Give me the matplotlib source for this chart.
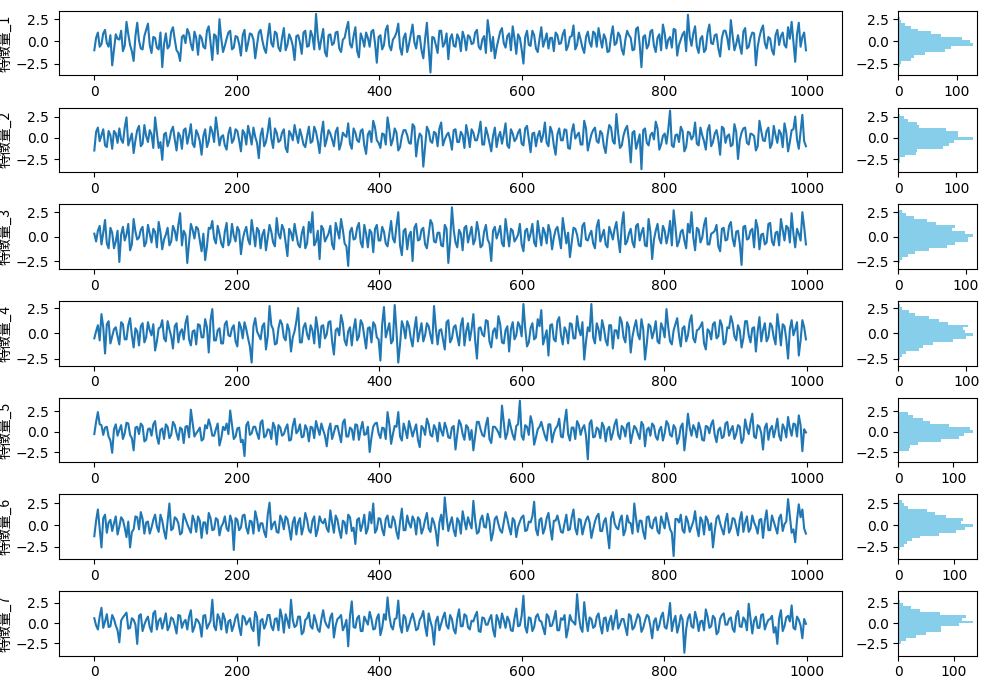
import numpy as np
import matplotlib.pyplot as plt

# 特徴量_1 ~ 特徴量_7 (値は図から読み取った近似、5サンプル毎)
s1 = [-1.0, 1.0, -0.3, 1.3, -0.6, -2.7, 0.8, 0.2, -1.1, 2.2, -0.4, -2.2, 2.1, -0.8, 0.6, 2.0, -1.3, 0.4, -0.9, -2.9,
      0.9, -0.5, 1.6, -1.0, -2.2, 0.7, 1.4, -0.3, 1.1, -1.5, 0.4, -0.8, 1.7, -2.1, 0.6, 2.5, -1.2, 0.3, 1.2, -0.7,
      0.5, -1.6, 1.3, -0.2, 0.8, -1.9, 1.0, 0.1, -1.3, 2.0, -0.6, 0.9, -1.1, 1.5, -0.4, 0.3, -2.1, 0.7, -1.4, 1.2,
      -0.5, 0.6, 3.1, -0.9, 1.4, -1.7, 0.8, -0.2, 1.1, -1.2, 0.4, 2.2, -0.7, 1.6, -1.8, 0.3, 1.0, -0.6, 1.3, -2.4,
      0.7, -0.4, 1.8, -1.0, 0.5, 2.0, -1.5, 0.9, -0.3, 1.9, -0.8, 0.6, -1.9, 2.1, -3.5, 0.4, -1.3, 1.2, -0.2, -2.0,
      0.8, -0.6, 0.3, 1.1, -1.0, 0.5, -0.2, 1.3, -0.9, 0.6, 2.4, -1.1, -1.9, 0.2, 1.5, -0.7, 0.9, 1.7, -1.4, 0.4,
      -2.5, 1.2, -0.5, 0.7, -1.2, 1.6, 0.1, -0.8, 0.4, 1.0, -0.3, 0.8, -1.0, 0.5, 1.8, -0.4, 0.2, -1.3, 1.1, -0.6,
      0.9, 1.5, -0.7, 0.3, -1.1, 1.7, -0.2, 0.6, -1.5, 1.2, 0.4, -0.9, 1.6, -2.9, 0.7, -0.4, 1.3, -1.2, 0.8, 1.9,
      -0.8, 0.5, 1.4, -1.6, 0.2, 1.1, 3.0, -0.5, 1.7, -1.3, 0.6, -0.9, 1.9, -0.3, 0.8, -1.7, 1.2, 0.4, 2.4, -1.0,
      0.7, -1.4, 1.5, -0.6, 1.0, -2.7, 0.5, 1.8, -0.8, 0.3, -1.5, 1.3, 0.6, -0.4, 1.6, 2.2, -2.3, 2.1, 0.5, -1.0]
s2 = [-1.5, 1.2, 0.3, -0.9, 0.8, -1.3, 0.5, 1.1, -0.6, 2.4, -0.2, -1.8, 0.9, -1.0, 1.5, -0.5, 0.4, 2.4, -1.2, -2.6,
      0.6, -0.3, 1.3, -1.5, 0.2, 0.9, -0.7, 1.6, -1.1, 0.4, -2.0, 1.0, -0.4, 0.7, 2.4, -0.9, 0.3, -1.4, 1.2, -0.2,
      0.8, -1.6, 0.5, 1.4, -0.8, 0.1, -2.4, 1.1, -0.5, 2.3, -1.2, 0.6, -0.3, 1.0, -1.7, 0.4, 1.5, -0.6, 0.2, -1.1,
      1.3, -0.4, 0.7, -1.8, 1.9, -0.2, 0.5, -1.0, 1.2, -0.7, 0.3, 1.7, -1.3, 0.6, -0.5, 1.0, -1.9, 0.8, 2.0, -0.3,
      -1.2, 0.4, 2.4, -0.9, 1.1, -1.5, 0.2, 0.9, -0.6, 1.6, -2.2, 0.5, -3.4, 1.3, -0.4, 0.7, -1.0, 1.8, -0.2, 0.6,
      -1.4, 1.0, -0.5, 0.3, 1.5, -1.1, 0.6, -0.3, 1.9, -0.8, 0.4, -1.6, 1.2, 0.1, -0.7, 1.7, -1.2, 0.5, -0.1, 1.0,
      -0.9, 1.4, -1.7, 0.6, 0.2, -0.5, 1.8, -1.0, 0.7, -2.0, 1.1, -0.3, 0.9, -1.3, 1.6, 0.3, -0.8, 2.0, -1.5, 0.4,
      1.2, -0.6, 0.5, -1.8, 1.5, -0.4, 2.8, -1.2, 0.3, 1.4, -2.9, 0.8, -0.5, -3.7, 1.1, -0.9, 0.6, 1.9, -1.4, 0.2,
      -0.7, 3.2, -1.1, 0.4, 1.3, -1.6, 0.7, -0.2, 1.8, -0.9, 0.3, -1.4, 1.5, -0.5, 0.9, -2.0, 1.1, 0.2, -1.0, 1.6,
      -2.5, 0.6, 1.2, -0.8, 0.4, -1.5, 2.0, -0.3, 0.8, -1.2, 1.4, -0.6, 0.5, 1.7, -1.6, 0.9, 2.5, -1.3, 2.7, -1.0]
s3 = [0.3, 0.6, -0.8, 1.7, -1.2, 0.4, -0.5, -2.6, 1.0, 0.2, -1.4, 1.8, -0.3, 0.7, -1.0, 1.2, -0.6, 0.5, 1.5, -1.3,
      0.2, -0.9, 1.1, -0.4, 2.4, 0.6, -2.7, 1.3, -0.2, 0.8, -1.5, -2.4, 0.9, 1.6, -0.7, 0.3, -1.1, 1.4, -0.5, 0.1,
      1.0, -1.8, 0.5, -0.3, 1.7, -1.0, 0.6, 0.2, -1.4, 1.2, -0.6, 1.9, -0.2, 0.7, -2.0, 0.4, 1.3, -0.8, 0.3, -1.2,
      1.5, 2.5, -0.5, -2.3, 0.8, -0.1, 1.1, -1.3, 0.6, 1.8, -0.7, -3.0, 0.9, -0.2, 1.4, -1.1, 0.3, 0.7, -1.6, 1.2,
      -0.4, 0.5, -1.0, 1.6, -0.6, 2.5, -1.9, 0.8, 0.1, -2.5, 1.3, -0.3, 0.9, -1.2, 1.7, -0.5, 0.4, -0.9, 1.2, -2.7,
      3.0, -0.6, 0.7, -1.4, 1.1, 0.2, -0.8, 1.5, -1.1, 0.5, -0.3, -2.5, 1.0, 0.4, -0.7, 1.8, -1.0, 0.6, -0.2, 1.3,
      -1.5, 0.8, 0.3, -0.6, 1.6, -0.9, 0.4, 1.2, -1.3, 0.7, -0.1, 1.9, -0.7, -2.1, 0.9, 0.2, -1.0, 1.4, -0.4, 0.6,
      -1.2, 1.7, 0.1, -0.8, 1.0, -0.3, 1.5, -1.6, 2.5, -0.5, 0.8, -1.1, 1.3, 0.4, -0.9, 1.8, -2.3, 0.6, -0.2, 1.1,
      -0.7, 1.6, 2.7, -1.0, 0.5, -0.4, 1.3, 2.5, -1.4, 0.7, -0.1, 1.9, -0.8, 0.4, 1.2, -1.5, 0.9, -0.3, 1.5, -1.0,
      0.6, -2.9, 1.1, -0.2, 0.8, 1.7, -1.3, 0.3, -0.6, 1.4, -0.9, 0.5, 1.8, -0.4, 0.9, 2.4, -1.1, 0.3, 2.5, -0.8]
s4 = [-0.5, 0.8, 1.9, -2.0, 1.2, -0.3, 0.6, -1.1, 0.9, -0.6, 1.5, -1.4, 0.2, 0.7, -0.9, 1.1, -0.2, -1.7, 0.5, 1.3,
      -0.8, 0.4, -1.5, 1.0, 0.1, -0.6, 1.7, -1.2, 0.3, 0.9, -0.4, 1.4, -1.9, 2.4, -0.7, 0.5, -1.0, 1.2, -0.3, 0.8,
      -1.3, 0.6, 1.1, -0.5, -2.9, 1.5, -0.2, 0.7, -1.6, 2.7, 0.4, -1.0, 1.3, -0.4, 0.9, -1.8, 0.2, 2.5, -0.9, 1.0,
      -0.6, 0.3, 1.6, -1.4, 0.8, -0.1, 1.2, -2.1, 0.5, 1.8, -0.7, 0.2, -1.2, 1.4, -0.3, 0.9, -1.5, 0.6, 1.1, -0.4,
      -2.7, 2.6, 0.3, -1.0, 2.8, -2.9, 1.2, -0.5, 0.7, -1.3, 1.6, 0.1, -0.8, 1.0, -0.2, 2.7, -1.1, 0.4, -1.6, 1.3,
      -0.5, 0.8, -1.2, 1.5, 0.2, -0.7, 1.9, -2.5, 0.6, -0.3, 1.2, -1.4, 0.5, 1.7, -0.9, 0.3, -1.8, 1.1, -0.2, 0.7,
      2.9, -1.3, 0.5, -0.6, 1.4, 2.3, -0.4, -2.2, 0.9, -0.8, 1.6, -1.1, 0.2, 1.0, -0.5, 1.7, -0.2, -2.6, 0.6, 2.9,
      -1.0, 0.4, 1.3, -0.7, 0.8, -1.5, 0.3, 1.6, -0.4, 1.1, -1.9, 0.6, -0.1, 1.4, -2.6, 0.9, -0.5, 1.2, -1.0, 0.5,
      2.4, -0.8, 0.3, 1.5, -1.3, 0.7, -0.2, 1.8, -0.9, 0.4, 1.1, -1.6, 0.2, 0.9, -0.5, 1.3, -1.1, 0.6, 1.7, -0.3,
      0.8, -1.4, 1.2, -0.2, 0.5, -1.8, 1.6, 0.3, -0.8, 1.0, -0.4, 1.9, -1.2, 0.7, -2.5, 1.3, 0.4, -2.2, 1.3, -0.6]
s5 = [-0.3, 2.4, 0.8, 0.5, -0.6, -2.6, 0.9, 0.2, -0.9, 1.1, -0.4, -2.3, 0.6, 1.0, -1.2, 0.3, -0.5, 1.3, -1.5, 0.4,
      0.9, -0.8, 1.2, -0.2, 0.5, -1.4, 0.7, 2.7, -0.6, 0.1, -1.1, 0.8, 1.5, -0.5, 0.3, -1.7, 0.6, 1.0, 2.6, -0.9,
      0.4, -1.3, -3.0, 1.2, -0.2, 0.6, -0.9, 1.4, -0.5, 0.2, 1.1, -1.6, 0.5, -0.3, 0.9, -1.0, 1.6, 0.1, -0.7, 0.8,
      -1.2, 0.5, 1.3, -0.4, 0.2, -1.8, 1.0, -0.1, 0.7, -1.3, 1.5, -0.6, 0.3, 0.9, -1.0, 1.2, -0.3, -2.5, 0.6, 1.1,
      -0.8, 0.4, 2.4, -1.5, 0.7, 2.4, -1.1, 0.2, 1.3, -0.6, 0.9, -1.9, 0.4, 1.6, -0.4, 0.8, -1.2, 0.1, 1.1, -0.7,
      0.5, -2.2, 1.4, -0.3, 0.8, -1.0, -2.3, 1.2, 0.3, -0.6, 1.7, -1.4, 0.6, -0.1, 3.2, -0.9, 1.5, -0.4, 0.7, 3.8,
      -1.0, 0.6, 1.9, -1.6, 0.3, 1.2, -0.5, 0.9, -1.3, 0.4, 1.6, -0.7, 2.7, -1.1, 0.5, 1.3, -0.4, 0.8, -3.4, 1.4,
      -0.6, 0.3, 1.1, -1.2, 0.6, -0.2, 1.5, -0.9, 0.4, 0.9, -1.4, 0.7, -0.3, 1.2, -1.8, 0.5, 1.0, -0.6, 0.2, -1.1,
      1.3, -0.4, 0.8, -1.5, 0.6, -2.3, 2.2, -0.5, 0.3, 1.1, -1.0, 0.7, -0.2, 1.4, -1.3, 0.5, -0.6, 1.2, 0.2, -0.9,
      0.8, -1.4, 1.5, -0.3, 2.2, -0.8, 0.6, -2.2, 1.0, 0.3, -0.7, 1.6, -1.1, 0.4, 1.8, -0.5, 0.9, 2.0, -2.4, -0.1]
s6 = [-1.3, 1.8, -2.6, 1.2, 0.3, -0.7, 1.0, -0.2, 0.6, -1.4, -2.6, -0.5, 0.9, 1.5, -1.0, 0.4, -0.3, 1.2, -0.8, 0.5,
      -1.6, 2.5, -0.4, 0.7, -1.1, 1.3, 0.1, -0.9, 0.5, 1.0, -1.5, 0.3, 1.4, -0.6, 0.8, -1.2, 0.2, -0.4, 1.1, -2.9,
      0.6, -0.3, 1.2, -1.0, 0.4, 1.6, -0.7, 0.2, -1.4, 2.6, 0.1, -0.8, 1.1, -0.5, 0.7, -1.7, 0.9, 0.3, -1.1, 1.4,
      -0.6, 0.5, -1.3, 1.0, 0.2, -0.4, 1.7, -0.9, 0.6, -1.5, 0.3, 1.2, -0.7, -2.2, 0.8, 0.1, -1.0, 1.5, 2.5, -0.5,
      0.7, -1.2, 1.1, -0.3, 0.5, -1.6, 1.9, -0.6, 0.2, 1.0, -1.1, 0.6, -0.4, 1.4, -0.8, 0.3, -2.4, 1.2, 3.2, -0.7,
      0.9, -1.3, 0.4, 1.6, -0.5, 0.2, 2.8, -1.0, 0.6, -0.2, 1.3, -1.8, 0.7, 0.1, -0.9, 1.5, -0.3, 0.8, -1.4, 0.4,
      1.1, -0.6, 0.3, 2.7, -1.2, 0.8, -0.4, 1.4, -1.7, 0.5, 0.2, -0.9, 1.2, -0.5, 1.8, -1.1, 0.6, -0.2, 1.0, -1.5,
      0.4, 1.3, -0.7, 0.8, -2.7, 1.5, -0.3, 0.6, -1.2, 1.1, 0.2, 2.5, -0.8, 0.5, -1.6, 1.0, -0.4, 0.9, -1.0, 0.3,
      1.4, -0.5, -3.6, 0.7, 1.2, -0.9, 0.4, -0.2, 1.6, -1.3, 0.5, 1.0, -0.6, -2.6, 0.8, 0.2, -1.1, 1.3, -0.4, 0.7,
      -1.2, 1.5, 0.3, -0.8, 1.1, -0.2, 0.6, -1.5, 1.7, -0.6, 0.4, -1.0, 1.2, 0.1, 3.0, -0.9, -2.0, 2.4, 1.8, -1.0]
s7 = [0.6, -0.8, 1.9, 0.2, -0.5, 1.0, -0.3, -2.4, 0.7, 1.3, -0.6, 0.4, -2.6, 1.1, -0.2, 0.8, -1.1, 1.5, 0.3, -0.7,
      1.2, -0.4, 0.5, -1.3, 0.9, 0.1, -0.8, 1.6, -0.5, 0.3, -1.7, 1.0, -0.2, 2.9, -0.9, 0.6, 1.2, -1.2, 0.4, -0.3,
      1.1, -1.5, 0.7, 0.2, -0.6, 1.4, -2.8, 0.5, -0.1, 1.0, -0.9, 0.6, 1.7, -1.2, 0.3, 2.9, -0.5, 0.8, -1.4, 0.4,
      1.3, -0.7, 0.2, -1.1, 1.6, -0.3, 0.7, -1.8, 0.5, 1.0, -0.4, -2.9, 2.7, -0.6, 0.9, -1.0, 0.3, 1.4, -0.8, 0.6,
      -1.5, 1.1, 3.2, -0.4, 0.5, 2.8, -1.2, 0.7, -0.3, 1.2, -0.9, 0.4, 1.5, -1.6, 0.2, -2.7, 0.8, -0.1, 1.3, -0.7,
      0.5, -1.3, 1.7, -0.4, 0.9, -0.8, 0.2, 1.4, -1.1, 0.6, -0.2, 1.0, -1.7, 0.4, 1.2, -0.6, 0.3, -1.0, 1.8, -0.3,
      3.4, -1.2, 0.6, -0.5, 1.1, 0.2, -1.4, 0.8, -0.3, 1.5, -0.9, 0.4, -1.8, 1.0, 0.1, 3.6, -0.6, 2.6, -1.0, 0.5,
      -0.4, 1.2, -1.3, 0.7, 0.2, -0.8, 1.6, -0.2, 0.5, -1.5, 0.9, -0.5, 1.1, -1.1, 0.3, 0.8, -1.9, 0.6, -0.3, 1.3,
      -0.7, 2.5, 0.2, -1.2, 1.0, -3.7, 0.6, -0.4, 1.4, -1.0, 0.3, 1.7, -0.6, 0.9, -1.4, 0.5, 1.2, -0.2, 0.7, -1.1,
      1.5, -0.5, 0.3, 2.4, -1.3, 0.8, -0.6, 1.1, -0.1, 0.5, -1.2, -2.6, 1.6, -0.4, 0.9, 2.2, -0.8, 0.4, -1.9, -0.1]

# 中間サンプル (上の各点の間の値)
m1 = [0.4, -0.6, 0.9, -0.2, 0.7, -1.0, 0.3, 1.2, -0.5, 0.8, -1.1, 0.6, 0.1, -0.9, 1.3, -0.4, 0.5, -0.7, 1.0, -0.3,
      -0.8, 1.1, 0.2, -1.3, 0.5, -0.2, 0.9, -1.0, 0.4, 0.7, -0.6, 1.2, -0.1, 0.8, -1.4, 0.3, -0.5, 1.0, -0.9, 0.6,
      -0.3, 0.7, -1.1, 0.9, 0.2, -0.4, 1.3, -0.8, 0.5, -0.2, 1.1, -0.7, 0.4, -1.0, 0.8, -0.5, 0.6, -0.1, 1.0, -0.6,
      1.2, -0.9, 0.5, 0.3, -1.2, 0.7, -0.4, 1.0, -0.8, 0.2, 1.4, -0.3, 0.6, -1.1, 0.9, -0.6, 0.4, 1.1, -0.2, 0.5,
      -0.9, 1.3, -0.5, 0.2, 1.0, -0.7, 0.4, -1.2, 0.8, -0.1, 0.6, -1.0, 0.3, -0.8, 0.5, -0.4, 1.2, -0.6, 0.9, 0.3,
      -0.5, 0.8, -1.1, 0.4, 0.7, -0.3, 1.0, -0.6, 0.2, -1.3, 0.9, 0.5, -0.7, 1.1, -0.2, 0.6, -1.0, 0.3, 0.8, -0.9,
      0.5, -0.4, 1.2, -0.8, 0.3, -0.6, 0.9, 0.4, -1.1, 0.7, -0.2, 1.3, -0.5, 0.6, -0.9, 1.0, -0.7, 0.5, -0.1, 1.1,
      -0.6, 0.3, 0.8, -1.2, 0.6, -0.4, 1.0, -0.9, 0.2, 0.7, -1.0, 1.4, -0.3, 0.5, -0.8, 1.1, -0.5, 0.4, -1.0, 0.9,
      0.2, -0.7, 1.3, -0.4, 0.8, -1.1, 0.5, 0.9, -0.6, 0.3, -1.2, 1.0, -0.2, 0.7, -0.8, 0.4, 1.2, -0.9, 0.6, -0.3,
      -0.5, 1.1, -0.8, 0.4, 0.9, -0.6, 1.3, -0.2, 0.5, -1.0, 0.7, -0.4, 1.0, -0.7, 0.3, -0.1, 0.8, -0.6, 1.0, -0.4]
m2 = [0.7, -0.4, 1.0, -1.1, 0.3, 0.8, -0.6, -0.2, 1.2, -0.9, 0.5, -0.3, 1.4, -0.7, 0.2, 0.9, -1.2, 0.6, -0.5, 0.4,
      -1.0, 0.8, -0.2, 0.6, -1.3, 1.1, 0.3, -0.7, 0.9, -0.4, 0.2, -1.1, 1.3, -0.5, 0.7, 0.1, -0.9, 0.5, -0.6, 1.0,
      -0.3, 0.9, -0.8, 0.4, 1.2, -0.6, 0.3, -1.0, 0.7, -0.1, 1.1, -0.5, 0.6, -1.2, 0.8, -0.3, 0.4, 1.0, -0.8, 0.2,
      -0.6, 1.3, -0.4, 0.5, -1.0, 0.9, -0.2, 0.7, -1.4, 0.6, 0.1, -0.7, 1.1, -0.3, 0.8, -0.9, 0.4, -0.5, 1.2, -0.6,
      0.5, -0.8, 1.0, -0.2, 0.6, -1.1, 0.9, 0.3, -0.7, 1.3, -0.4, 0.2, -1.0, 0.8, -0.6, 0.5, 1.1, -0.9, 0.3, -0.2,
      0.9, -0.5, 0.7, -1.2, 0.4, 1.0, -0.3, 0.6, -0.8, 1.2, -0.6, 0.2, -1.1, 0.7, 0.4, -0.9, 1.0, -0.4, 0.6, -0.7,
      1.1, -0.2, 0.5, -1.0, 0.8, 0.3, -0.6, 1.3, -0.9, 0.4, -0.3, 1.0, -1.2, 0.7, -0.1, 0.6, -0.8, 1.1, -0.5, 0.9,
      -0.4, 0.8, -1.0, 0.2, 1.2, -0.7, 0.5, -0.9, 1.0, -0.3, 0.6, -1.3, 0.4, 0.9, -0.6, 0.3, -0.2, 1.1, -0.8, 0.5,
      1.0, -0.9, 0.3, -0.5, 0.8, -1.1, 0.6, 0.2, -0.7, 1.2, -0.4, 0.9, -1.0, 0.5, -0.2, 1.3, -0.6, 0.4, -0.8, 0.7,
      -0.3, 1.1, -0.6, 0.5, 0.2, -1.0, 0.8, -0.4, 1.2, -0.7, 0.3, 0.9, -1.1, 0.6, -0.5, 1.0, -0.2, 0.7, -0.4, 0.3]
m3 = [-0.5, 1.1, 0.4, -0.7, 0.9, -1.2, 0.6, 0.2, -0.4, 1.3, -0.8, 0.5, -0.1, 1.0, -0.6, 0.3, 0.8, -1.1, 0.4, -0.3,
      0.9, -0.5, 0.6, 1.2, -0.9, 0.2, -0.6, 0.7, 1.0, -0.4, 0.3, -1.0, 0.8, -0.2, 1.1, -0.7, 0.5, -0.9, 1.3, -0.5,
      0.6, -0.3, 1.0, -0.8, 0.4, 0.9, -1.2, 0.7, -0.1, 0.5, -1.0, 0.3, 1.2, -0.6, 0.8, -0.4, 0.2, -1.1, 1.0, -0.7,
      0.4, -0.9, 0.6, 1.1, -0.5, 0.3, -0.8, 1.4, -0.2, 0.7, -1.0, 0.5, -0.3, 0.9, -0.6, 1.2, -1.1, 0.4, 0.8, -0.4,
      1.0, -0.7, 0.3, -0.2, 1.1, -0.9, 0.6, -1.3, 0.5, 0.9, -0.4, 0.7, -0.8, 0.2, 1.3, -0.6, 0.4, -1.0, 0.8, -0.5,
      0.7, -1.1, 0.3, 0.9, -0.6, 1.0, -0.3, 0.5, -0.9, 1.2, -0.7, 0.6, -0.2, 1.1, -1.0, 0.4, 0.8, -0.5, 0.2, -0.8,
      0.6, -0.4, 1.3, -1.0, 0.3, 0.9, -0.7, 0.5, -0.1, 1.0, -1.2, 0.6, 0.4, -0.6, 0.8, -0.9, 1.1, -0.3, 0.2, -0.7,
      1.0, -0.5, 0.7, -1.1, 0.4, 0.8, -0.2, 1.2, -0.8, 0.3, -0.6, 1.1, -0.4, 0.9, -1.0, 0.5, -0.3, 1.3, -0.7, 0.6,
      0.2, -0.9, 1.0, -0.5, 0.7, -1.2, 0.4, -0.1, 0.9, -0.6, 1.2, -0.8, 0.3, 0.6, -1.0, 0.8, -0.4, 1.1, -0.2, 0.5,
      -0.7, 1.0, -0.3, 0.6, -1.1, 0.9, 0.2, -0.8, 1.3, -0.5, 0.4, -0.9, 0.7, 1.1, -0.6, 0.3, 0.8, -0.4, 1.0, 0.2]
m4 = [0.2, -0.7, 0.6, 0.9, -1.0, 0.4, -0.3, 1.1, -0.6, 0.8, -0.2, 0.5, -1.2, 1.0, -0.4, 0.3, 0.9, -0.8, 0.6, -0.5,
      1.2, -0.3, 0.7, -0.9, 0.4, 1.0, -0.6, 0.2, -1.1, 0.8, -0.4, 0.6, 1.3, -0.7, 0.3, -1.0, 0.9, -0.2, 0.5, -0.8,
      1.1, -0.5, 0.4, -1.3, 0.7, 0.2, -0.6, 1.0, -0.3, 0.8, -1.1, 0.5, 0.9, -0.7, 0.3, -0.4, 1.2, -0.9, 0.6, -0.1,
      0.8, -1.0, 0.4, 0.7, -0.5, 1.1, -0.8, 0.3, -0.2, 1.0, -1.2, 0.6, 0.4, -0.7, 1.3, -0.3, 0.5, -0.9, 0.8, -0.6,
      0.9, -0.4, 1.0, -0.7, 0.2, -1.1, 0.6, 1.2, -0.5, 0.4, -0.8, 1.0, -0.2, 0.7, -1.0, 0.5, 0.3, -0.6, 1.1, -0.9,
      0.6, -0.3, 0.8, -1.2, 1.0, 0.4, -0.7, 0.5, -0.1, 1.3, -0.8, 0.2, -0.5, 0.9, -1.0, 0.7, 0.4, -0.6, 1.1, -0.3,
      0.5, -0.9, 1.0, -0.4, 0.7, -1.1, 0.3, 0.8, -0.6, 1.2, -0.2, 0.6, -1.0, 0.9, -0.5, 0.4, 1.1, -0.8, 0.2, -0.4,
      1.0, -0.7, 0.5, -1.2, 0.8, 0.3, -0.5, 1.1, -0.9, 0.6, -0.3, 1.3, -0.6, 0.4, -1.0, 0.7, 0.2, -0.8, 1.0, -0.4,
      0.6, -1.1, 0.9, -0.2, 0.5, -0.8, 1.2, -0.5, 0.3, 0.7, -1.0, 0.4, -0.6, 1.1, -0.3, 0.8, -0.9, 0.5, 1.0, -0.7,
      0.3, -0.5, 1.2, -0.9, 0.6, 0.2, -0.8, 1.0, -0.4, 0.7, -1.1, 0.5, 0.9, -0.6, 0.4, -0.2, 1.1, -0.7, 0.6, 0.8]
m5 = [1.2, 0.9, -0.4, 0.6, -1.1, 0.3, -0.5, 0.8, -0.2, 1.0, -0.8, 0.5, -0.3, 0.7, -1.0, 0.4, 0.9, -0.6, 0.2, -0.9,
      0.6, -0.4, 0.8, -1.0, 0.3, 0.6, -0.7, 1.1, -0.2, 0.5, -0.9, 0.4, 0.7, -0.5, 1.0, -0.8, 0.2, -0.3, 0.9, -0.6,
      0.5, -1.0, 0.8, -0.4, 0.6, -0.2, 1.1, -0.7, 0.3, -0.9, 0.5, 0.8, -0.5, 0.4, -1.1, 0.7, -0.2, 0.9, -0.6, 0.3,
      0.6, -0.8, 0.4, 1.0, -0.5, 0.2, -0.9, 0.7, -0.3, 1.1, -0.6, 0.5, -1.0, 0.8, 0.3, -0.4, 0.6, -0.7, 1.0, -0.2,
      0.5, -0.9, 0.9, -0.3, 0.6, -0.6, 1.0, -0.8, 0.4, 0.2, -1.0, 0.7, -0.4, 0.9, -0.6, 0.3, 1.1, -0.5, 0.4, -0.8,
      0.7, -0.3, 0.9, -1.0, 0.5, 0.2, -0.6, 1.2, -0.4, 0.8, -0.9, 0.6, 0.3, -0.7, 1.1, -0.2, 0.5, -1.0, 0.9, -0.5,
      0.8, -0.4, 1.0, -0.7, 0.6, 0.3, -1.1, 0.9, -0.2, 0.7, -0.6, 1.2, -0.3, 0.5, -0.9, 0.8, 0.4, -0.5, 1.0, -0.7,
      0.5, -0.8, 0.6, 0.3, -1.0, 0.9, -0.4, 0.7, -0.6, 1.1, -0.3, 0.4, -0.9, 0.8, 0.2, -0.5, 0.7, -1.0, 0.6, -0.2,
      0.9, -0.6, 0.4, -0.8, 1.0, -0.3, 0.5, 0.8, -0.7, 0.3, -1.1, 0.6, 0.9, -0.4, 0.2, -0.8, 1.0, -0.5, 0.7, -0.3,
      0.6, -0.9, 0.4, 1.1, -0.6, 0.8, -0.2, 0.5, -1.0, 0.7, 0.3, -0.5, 0.9, -0.7, 0.4, 1.0, -0.6, 0.8, 0.3, -1.5]
m6 = [0.5, -0.4, 0.8, -0.9, 0.6, 0.2, -1.1, 0.9, -0.3, 0.4, -0.8, 1.0, -0.5, 0.7, 0.3, -1.0, 0.6, -0.2, 1.2, -0.7,
      0.4, -0.6, 0.9, 0.2, -0.9, 0.7, -0.4, 1.1, -0.8, 0.5, 0.3, -1.0, 0.8, -0.5, 0.6, -0.2, 1.0, -0.7, 0.4, 0.8,
      -0.6, 1.1, -0.3, 0.5, -1.0, 0.7, 0.2, -0.8, 1.2, -0.5, 0.4, -0.9, 0.6, 1.0, -0.4, 0.3, -1.1, 0.8, -0.2, 0.6,
      -0.9, 1.0, -0.5, 0.4, 0.7, -0.8, 0.3, 1.1, -0.6, 0.5, -1.0, 0.9, -0.3, 0.6, -0.7, 1.2, -0.4, 0.2, -0.9, 0.8,
      -0.5, 0.7, -0.2, 1.0, -0.8, 0.4, -0.6, 1.1, -0.3, 0.5, 0.9, -1.0, 0.6, -0.4, 0.8, -0.7, 0.3, -0.5, 1.0, 0.2,
      -0.6, 0.8, -1.0, 0.5, 0.9, -0.4, 0.6, -0.8, 1.1, -0.3, 0.4, -0.9, 1.0, -0.6, 0.3, 0.7, -1.1, 0.5, -0.2, 0.9,
      -0.7, 0.4, 1.0, -0.5, 0.6, -1.0, 0.8, -0.3, 0.5, 1.1, -0.8, 0.2, -0.6, 0.9, -0.4, 0.7, -1.1, 0.6, 0.3, -0.5,
      1.0, -0.7, 0.4, -0.9, 0.8, 0.2, -0.5, 1.1, -0.6, 0.3, -1.0, 0.7, 0.5, -0.8, 0.9, -0.2, 0.6, -0.7, 1.0, -0.4,
      0.5, -0.9, 0.7, 0.3, -0.6, 1.0, -0.8, 0.4, -0.3, 0.9, -1.1, 0.6, 0.2, -0.7, 1.1, -0.5, 0.4, -0.9, 0.8, -0.2,
      0.6, -0.8, 1.0, -0.4, 0.3, -1.0, 0.7, 0.5, -0.6, 1.1, -0.3, 0.8, -0.7, 0.4, 1.0, -0.5, 0.6, 0.9, -0.4, 0.3]
m7 = [-0.3, 0.8, -0.6, 1.1, -0.4, 0.5, -0.9, 0.3, 1.0, -0.7, 0.6, -0.2, 0.9, -1.0, 0.4, -0.5, 1.2, -0.8, 0.6, 0.2,
      -0.9, 0.7, -0.3, 1.0, -0.6, 0.4, 0.8, -1.1, 0.5, -0.2, 0.9, -0.7, 0.3, -0.4, 1.1, -0.8, 0.5, 0.2, -1.0, 0.7,
      -0.5, 0.9, -0.2, 0.6, -1.0, 0.8, 0.3, -0.7, 1.0, -0.4, 0.5, -0.9, 0.7, 1.1, -0.6, 0.4, -0.3, 0.8, -1.1, 0.6,
      -0.4, 1.0, -0.8, 0.5, 0.2, -0.6, 1.2, -0.3, 0.7, -0.9, 0.4, 0.9, -0.5, 0.6, -1.0, 0.8, -0.2, 0.5, -0.7, 1.1,
      -0.6, 0.4, 0.9, -0.8, 0.6, -0.3, 1.0, -1.0, 0.5, 0.3, -0.7, 0.8, -0.4, 1.2, -0.6, 0.2, -0.9, 0.7, -0.3, 1.0,
      -0.8, 0.6, -0.4, 1.1, -0.5, 0.3, 0.9, -1.0, 0.7, -0.2, 0.5, -0.8, 1.0, -0.6, 0.4, 0.8, -0.9, 0.6, -0.4, 0.9,
      -0.5, 0.7, -1.0, 0.8, 0.3, -0.6, 1.1, -0.4, 0.5, -0.9, 0.6, 1.0, -0.7, 0.3, -0.2, 0.9, -1.1, 0.5, 0.7, -0.6,
      0.8, -0.3, 0.6, -1.0, 0.9, 0.4, -0.7, 0.5, -0.5, 1.1, -0.8, 0.3, 0.7, -0.6, 1.0, -0.4, 0.2, -0.9, 0.8, -0.5,
      0.6, -1.0, 0.9, -0.3, 0.4, -0.8, 1.1, -0.6, 0.5, 0.2, -0.9, 0.8, -0.4, 0.6, -1.1, 1.0, -0.2, 0.5, -0.7, 0.9,
      -0.4, 0.7, -0.9, 0.5, 0.3, -0.6, 1.0, -0.8, 0.4, 0.9, -0.5, 0.6, -1.0, 0.7, 0.2, -0.6, 0.8, -0.3, 0.5, -0.9]
series = [s1, s2, s3, s4, s5, s6, s7]
mids = [m1, m2, m3, m4, m5, m6, m7]

# ヒストグラム (20ビン, 下から上)
hist_range = [(-3.5, 3.1), (-3.7, 3.2), (-3.0, 3.0), (-2.9, 2.9), (-3.4, 3.8), (-3.6, 3.2), (-3.7, 3.6)]
h1 = [1, 1, 3, 4, 21, 27, 45, 80, 91, 128, 123, 110, 74, 56, 34, 21, 12, 4, 2, 1]
h2 = [1, 1, 2, 3, 12, 31, 33, 78, 88, 97, 129, 104, 103, 83, 36, 33, 17, 10, 2, 1]
h3 = [1, 3, 5, 15, 25, 45, 73, 84, 104, 104, 111, 99, 80, 85, 56, 42, 24, 11, 5, 1]
h4 = [1, 2, 5, 12, 30, 36, 51, 80, 100, 110, 99, 96, 103, 73, 60, 45, 25, 15, 5, 2]
h5 = [1, 1, 2, 20, 21, 35, 78, 110, 120, 136, 130, 92, 57, 45, 27, 17, 2, 1, 0, 1]
h6 = [1, 1, 3, 10, 16, 24, 39, 72, 103, 119, 133, 112, 115, 85, 65, 51, 18, 10, 6, 2]
h7 = [1, 0, 2, 4, 13, 32, 50, 77, 77, 109, 134, 115, 122, 75, 39, 22, 9, 3, 2, 1]
hists = [h1, h2, h3, h4, h5, h6, h7]

fig = plt.figure(figsize=(9.87, 6.84), dpi=100)
gs = fig.add_gridspec(7, 2, width_ratios=[10, 1], left=0.0595, right=0.9895,
                      top=0.984, bottom=0.0414, wspace=0.132, hspace=0.5)

for i in range(7):
    ax = fig.add_subplot(gs[i, 0])
    axh = fig.add_subplot(gs[i, 1], sharey=ax)
    # 主サンプルと中間サンプルを交互に並べる
    y = np.column_stack([series[i], mids[i]]).ravel()[:-1]
    x = np.linspace(0, 999, len(y))
    ax.plot(x, y, color='#1f77b4')
    ax.set_ylabel(f'特徴量_{i + 1}', family=['Noto Sans CJK JP', 'DejaVu Sans'], labelpad=2)

    lo, hi = hist_range[i]
    counts = hists[i]
    edges = np.linspace(lo, hi, len(counts) + 1)
    axh.barh(edges[:-1], counts, height=np.diff(edges), align='edge', color='skyblue')

fig.savefig('out.png', dpi=100)
